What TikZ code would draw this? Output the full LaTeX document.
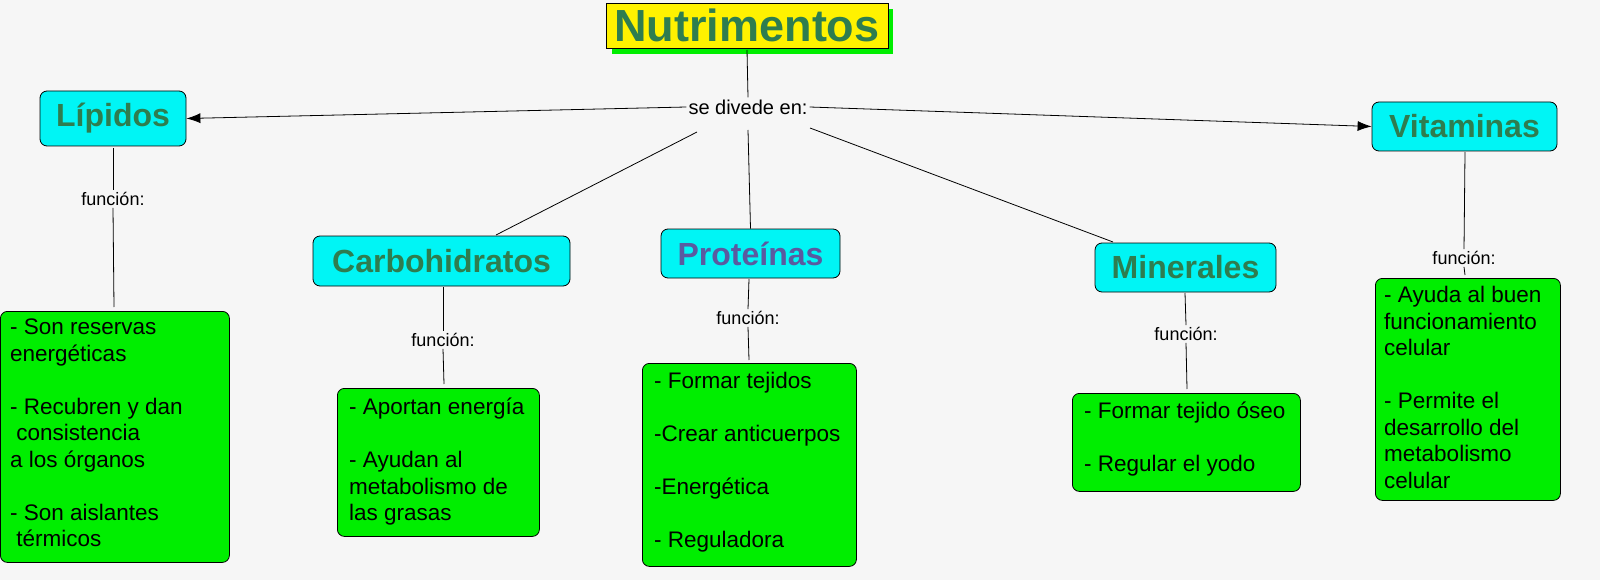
\documentclass[tikz,border=0pt]{standalone}
\usepackage{fontspec}
\setmainfont{Liberation Sans}
\usetikzlibrary{arrows.meta}
\definecolor{bg}{HTML}{F6F6F6}
\definecolor{cy}{HTML}{00F5F5}
\definecolor{gr}{HTML}{00EE00}
\definecolor{dg}{HTML}{2E7D4F}
\definecolor{pu}{HTML}{5A5AA0}
\tikzset{
 cat/.style={draw=black,fill=cy,rounded corners=7pt,font=\fontsize{32}{34}\selectfont\bfseries,text=dg,inner sep=0pt,line width=0.8pt},
 info/.style={draw=black,fill=gr,rounded corners=7pt,anchor=north west,inner sep=0pt,line width=0.8pt},
 txt/.style={anchor=north west,font=\fontsize{22.5}{26.5}\selectfont,align=left,inner sep=0pt},
 lab/.style={fill=bg,font=\fontsize{18}{20}\selectfont,inner sep=2pt},
 ln/.style={draw=black,line width=0.8pt},
 arr/.style={ln,-{Latex[length=14pt,width=10pt]}}
}
\begin{document}
\begin{tikzpicture}[x=1pt,y=-1pt]
\fill[bg] (0,0) rectangle (1600,580);
\useasboundingbox (0,0) rectangle (1600,580);
% title
\fill[gr] (612,9) rectangle (893,54);
\node[draw=black,fill=yellow,line width=0.8pt,minimum width=282pt,minimum height=45pt,inner sep=0pt,font=\fontsize{45}{47}\selectfont\bfseries,text=dg] (t) at (747,25.5) {Nutrimentos};
\node[lab,font=\fontsize{20}{22}\selectfont] (s) at (748,107) {se divede en:};
\node[cat,minimum width=146pt,minimum height=55pt] (lip) at (113,118.5) {Lípidos};
\node[cat,minimum width=185pt,minimum height=49pt] (vit) at (1464.5,126.5) {Vitaminas};
\node[cat,minimum width=257pt,minimum height=50pt] (car) at (441.5,261) {Carbohidratos};
\node[cat,minimum width=179pt,minimum height=49pt,text=pu] (pro) at (750.5,253.5) {Proteínas};
\node[cat,minimum width=181pt,minimum height=49pt] (min) at (1185.5,267.5) {Minerales};
% info boxes
\node[info,minimum width=229pt,minimum height=251pt] (lb) at (0,311) {};
\node[txt] at (10,319) {- Son reservas\\energéticas\\[26.5pt]- Recubren y dan\\\ consistencia\\a los órganos\\[26.5pt]- Son aislantes\\\ térmicos};
\node[info,minimum width=202pt,minimum height=148pt] (cb) at (337,388) {};
\node[txt] at (349,398) {- Aportan energía\\[26.5pt]- Ayudan al\\metabolismo de\\las grasas};
\node[info,minimum width=214pt,minimum height=203pt] (pb) at (642,363) {};
\node[txt] at (654,372) {- Formar tejidos\\[26.5pt]-Crear anticuerpos\\[26.5pt]-Energética\\[26.5pt]- Reguladora};
\node[info,minimum width=228pt,minimum height=98pt] (mb) at (1072,393) {};
\node[txt] at (1084,402) {- Formar tejido óseo\\[26.5pt]- Regular el yodo};
\node[info,minimum width=185pt,minimum height=222pt] (vb) at (1375,278) {};
\node[txt] at (1384,286) {- Ayuda al buen\\funcionamiento\\celular\\[26.5pt]- Permite el\\desarrollo del\\metabolismo\\celular};
% labels
\node[lab] (fl) at (113,199) {función:};
\node[lab] (fc) at (443,340) {función:};
\node[lab] (fp) at (748,318) {función:};
\node[lab] (fm) at (1186,334) {función:};
\node[lab] (fv) at (1464,258) {función:};
% connectors
\draw[ln] (747,50) -- (s.north);
\draw[arr] (s.west) -- (lip.east);
\draw[arr] (s.east) -- (vit.west);
\draw[ln] (697,132) -- (496,235);
\draw[ln] (748,130) -- (pro.north);
\draw[ln] (810,128) -- (1113,242);
\draw[ln] (113,148) -- (fl.north);
\draw[ln] (fl.south) -- (114,307);
\draw[ln] (443,287) -- (fc.north);
\draw[ln] (fc.south) -- (444,384);
\draw[ln] (749,279) -- (fp.north);
\draw[ln] (fp.south) -- (749,360);
\draw[ln] (1185,293) -- (fm.north);
\draw[ln] (fm.south) -- (1187,389);
\draw[ln] (1465,152) -- (fv.north);
\draw[ln] (fv.south) -- (1465,275);
\end{tikzpicture}
\end{document}
